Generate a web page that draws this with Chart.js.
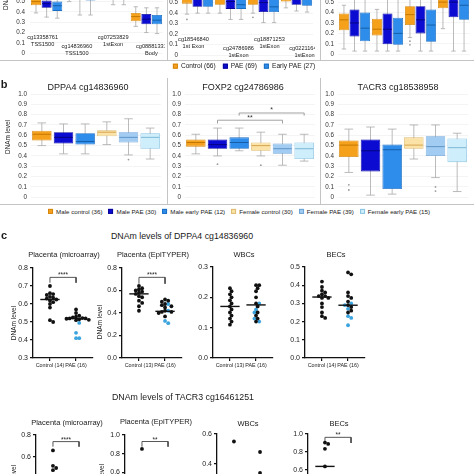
<!DOCTYPE html>
<html>
<head>
<meta charset="utf-8">
<script src="https://cdn.jsdelivr.net/npm/chart.js@4.4.1/dist/chart.umd.min.js"></script>
<style>
  html, body { margin: 0; padding: 0; background: #fff; }
  #fig { position: relative; width: 474px; height: 474px; overflow: hidden; font-family: "Liberation Sans", Arial, sans-serif; color: #1a1a1a; }
  #fig canvas { position: absolute; }
  .t { position: absolute; white-space: nowrap; line-height: 1; }
  .ln { position: absolute; background: #c4c4c4; }
  .leg { position: absolute; display: flex; align-items: center; white-space: nowrap; line-height: 1; transform: translate(-50%, -50%); }
  .leg .it { display: inline-flex; align-items: center; }
  .leg .sq { display: inline-block; width: 5px; height: 5px; margin-right: 3px; box-sizing: border-box; border: 1px solid; }
</style>
</head>
<body>
<div id="fig"></div>
<script>
// --- data: panel a, [low whisker, q1, median, q3, high whisker] per CpG ---
const aGroupNames = ['Control (66)', 'PAE (69)', 'Early PAE (27)'];
const aLeftCpgs = [['cg13358761', 'TSS1500'], ['cg14836960', 'TSS1500'], ['cg07253829', '1stExon'], ['cg08881331', 'Body']];
const aLeftControl = [[0.39, 0.465, 0.50, 0.55, 0.63], [0.50, 0.60, 0.65, 0.69, 0.78], [0.55, 0.72, 0.78, 0.83, 0.92], [0.26, 0.31, 0.355, 0.39, 0.45]];
const aLeftPae = [[0.35, 0.44, 0.48, 0.51, 0.60], [0.37, 0.53, 0.60, 0.66, 0.76], [0.47, 0.66, 0.74, 0.80, 0.92], [0.20, 0.28, 0.33, 0.38, 0.44]];
const aLeftEarly = [[0.34, 0.41, 0.46, 0.50, 0.58], [0.37, 0.51, 0.58, 0.64, 0.74], [0.47, 0.65, 0.73, 0.80, 0.91], [0.19, 0.28, 0.32, 0.37, 0.44]];

const aMidCpgs = [['cg18546840', '1st Exon'], ['cg24786986', '1stExon'], ['cg18871253', '1stExon'], ['cg02211646', '1stExon']];
const aMidControl = [[0.39, 0.49, 0.55, 0.62, 0.72], [0.40, 0.48, 0.53, 0.58, 0.66], [0.40, 0.48, 0.53, 0.58, 0.68], [0.45, 0.51, 0.56, 0.62, 0.72]];
const aMidPae = [[0.40, 0.46, 0.54, 0.62, 0.74], [0.34, 0.44, 0.51, 0.57, 0.67], [0.31, 0.41, 0.50, 0.57, 0.70], [0.42, 0.48, 0.55, 0.61, 0.71]];
const aMidEarly = [[0.40, 0.46, 0.54, 0.61, 0.72], [0.34, 0.44, 0.48, 0.56, 0.66], [0.31, 0.41, 0.46, 0.55, 0.68], [0.41, 0.47, 0.53, 0.60, 0.70]];
const aMidControlOut = [[0, 0.34], [2, 0.36]];

const aRightCpgs = ['1', '2', '3', '4'];
const aRightControl = [[0.05, 0.23, 0.33, 0.39, 0.47], [0.03, 0.18, 0.24, 0.34, 0.43], [0.16, 0.28, 0.38, 0.46, 0.60], [0.245, 0.44, 0.50, 0.56, 0.70]];
const aRightPae = [[0.03, 0.17, 0.30, 0.43, 0.62], [0.03, 0.095, 0.24, 0.39, 0.60], [0.03, 0.20, 0.33, 0.46, 0.65], [0.03, 0.355, 0.50, 0.62, 0.80]];
const aRightEarly = [[0.03, 0.125, 0.25, 0.40, 0.60], [0.03, 0.09, 0.20, 0.35, 0.55], [0.03, 0.12, 0.28, 0.43, 0.63], [0.03, 0.33, 0.47, 0.60, 0.78]];
const aRightControlOut = [[2, 0.125], [2, 0.09]];

// --- data: panel b, sex-stratified boxes ---
const bGroupNames = ['Male control (36)', 'Male PAE (30)', 'Male early PAE (12)', 'Female control (30)', 'Female PAE (39)', 'Female early PAE (15)'];
const bDppa4 = [[0.50, 0.55, 0.61, 0.645, 0.72], [0.42, 0.52, 0.58, 0.63, 0.71], [0.42, 0.51, 0.54, 0.62, 0.71], [0.51, 0.59, 0.63, 0.65, 0.73], [0.41, 0.53, 0.58, 0.63, 0.76], [0.37, 0.47, 0.58, 0.62, 0.67]];
const bDppa4Out = [[4, 0.365]];
const bFoxp2 = [[0.42, 0.49, 0.53, 0.56, 0.61], [0.40, 0.47, 0.51, 0.56, 0.67], [0.45, 0.47, 0.53, 0.58, 0.67], [0.40, 0.45, 0.50, 0.53, 0.63], [0.31, 0.42, 0.47, 0.52, 0.61], [0.35, 0.37, 0.47, 0.53, 0.61]];
const bFoxp2Out = [[1, 0.32], [3, 0.31]];
const bFoxp2Sig = [[1, 4, 0.746, 0.714, '**'], [2, 5, 0.816, 0.79, '*']];
const bTacr3 = [[0.24, 0.39, 0.505, 0.55, 0.66], [0.02, 0.25, 0.45, 0.56, 0.68], [0.03, 0.08, 0.46, 0.51, 0.66], [0.37, 0.47, 0.505, 0.58, 0.70], [0.19, 0.40, 0.49, 0.59, 0.70], [0.055, 0.34, 0.48, 0.57, 0.62]];
const bTacr3Out = [[0, 0.12], [0, 0.07], [4, 0.10], [4, 0.06]];

// --- data: panel c, individual DNAm values (black = PAE, blue = early PAE) ---
const cDppa4MicroCtrl = [0.70, 0.66, 0.655, 0.65, 0.64, 0.635, 0.63, 0.625, 0.62, 0.61, 0.60, 0.58, 0.51, 0.50];
const cDppa4MicroPae = [0.57, 0.55, 0.535, 0.53, 0.525, 0.522, 0.52, 0.52, 0.518, 0.515, 0.512, 0.51];
const cDppa4MicroEarly = [0.495, 0.44, 0.41, 0.41];
const cDppa4MicroMed = [0.625, 0.52];

const cDppa4EpiCtrl = [0.64, 0.62, 0.61, 0.60, 0.59, 0.58, 0.57, 0.55, 0.54, 0.51, 0.49, 0.46, 0.42];
const cDppa4EpiPae = [0.52, 0.51, 0.50, 0.48, 0.47, 0.46, 0.45, 0.42, 0.41, 0.41, 0.40, 0.37];
const cDppa4EpiEarly = [0.48, 0.42, 0.33, 0.31];
const cDppa4EpiMed = [0.57, 0.415];

const cDppa4WbcCtrl = [0.23, 0.22, 0.21, 0.20, 0.19, 0.18, 0.17, 0.16, 0.15, 0.14, 0.13, 0.12, 0.11];
const cDppa4WbcPae = [0.24, 0.24, 0.23, 0.22, 0.20, 0.18, 0.17, 0.15, 0.14, 0.13, 0.12];
const cDppa4WbcEarly = [0.18, 0.16, 0.15, 0.13, 0.12];
const cDppa4WbcMed = [0.17, 0.175];

const cDppa4BecCtrl = [0.42, 0.39, 0.37, 0.36, 0.35, 0.34, 0.34, 0.33, 0.33, 0.30, 0.28, 0.25, 0.23, 0.22];
const cDppa4BecPae = [0.47, 0.46, 0.36, 0.34, 0.33, 0.31, 0.29, 0.28, 0.26, 0.25];
const cDppa4BecEarly = [0.30, 0.29, 0.27, 0.23, 0.22, 0.18];
const cDppa4BecMed = [0.335, 0.29];

const cTacr3MicroCtrl = [0.66, 0.52, 0.50, 0.48];
const cTacr3EpiCtrl = [0.85];
const cTacr3WbcCtrl = [0.55];
const cTacr3WbcPae = [0.48, 0.34];
const cTacr3BecCtrl = [0.905, 0.89, 0.835, 0.64];
const cTacr3BecMed = [0.64, null];

// --- colours ---
const FONT = '"Liberation Sans", Arial, sans-serif';
const ORANGE = ['#F6A11C', '#D4860E'], NAVY = ['#0B0BD2', '#06069A'], BLUE = ['#2E8DEB', '#1B6EC2'];
const LORANGE = ['#FBE2A6', '#DDBB72'], LBLUE = ['#A3CCF2', '#6BA3D6'], VLBLUE = ['#CFEEFB', '#88C3E2'];
const bColors = [ORANGE, NAVY, BLUE, LORANGE, LBLUE, VLBLUE];

Chart.defaults.font.family = FONT;
Chart.defaults.animation = false;
Chart.defaults.events = [];
Chart.defaults.plugins.legend.display = false;
Chart.defaults.plugins.tooltip.enabled = false;

const fig = document.getElementById('fig');

function addText(s, x, y, size, bold, rotate) {
    const d = document.createElement('div');
    d.className = 't';
    d.textContent = s;
    d.style.left = x + 'px';
    d.style.top = y + 'px';
    d.style.fontSize = size + 'px';
    if (bold) d.style.fontWeight = 'bold';
    d.style.transform = 'translate(-50%, -50%)' + (rotate ? ' rotate(-90deg)' : '');
    fig.appendChild(d);
}
function addLine(x, y, w, h) {
    const d = document.createElement('div');
    d.className = 'ln';
    Object.assign(d.style, { left: x + 'px', top: y + 'px', width: w + 'px', height: h + 'px' });
    fig.appendChild(d);
}
function addCanvas(left, top, w, h) {
    const cv = document.createElement('canvas');
    cv.width = w; cv.height = h;
    Object.assign(cv.style, { left: left + 'px', top: top + 'px', width: w + 'px', height: h + 'px' });
    fig.appendChild(cv);
    return cv;
}
function legend(items, cx, cy, size, gap) {
    const d = document.createElement('div');
    d.className = 'leg';
    Object.assign(d.style, { left: cx + 'px', top: cy + 'px', fontSize: size + 'px', gap: gap + 'px' });
    items.forEach(([name, col]) => {
        const it = document.createElement('span');
        it.className = 'it';
        it.innerHTML = `<span class="sq" style="background:${col[0]};border-color:${col[1]}"></span>${name}`;
        d.appendChild(it);
    });
    fig.appendChild(d);
}

// --- boxplot extras: whiskers, medians, outliers, brackets, CpG labels ---
const boxExtras = {
    id: 'boxExtras',
    beforeDatasetsDraw(chart) {
        const ctx = chart.ctx, y = chart.scales.y;
        ctx.save();
        ctx.strokeStyle = '#a9a9a9';
        ctx.lineWidth = 0.8;
        chart.data.datasets.forEach((ds, di) => {
            chart.getDatasetMeta(di).data.forEach((bar, i) => {
                const s = ds.stats[i], cap = bar.width * 0.22;
                const yl = y.getPixelForValue(s[0]), yh = y.getPixelForValue(s[4]);
                ctx.beginPath();
                ctx.moveTo(bar.x, yl); ctx.lineTo(bar.x, yh);
                ctx.moveTo(bar.x - cap, yl); ctx.lineTo(bar.x + cap, yl);
                ctx.moveTo(bar.x - cap, yh); ctx.lineTo(bar.x + cap, yh);
                ctx.stroke();
            });
        });
        ctx.restore();
    },
    afterDatasetsDraw(chart, args, opts) {
        const ctx = chart.ctx, x = chart.scales.x, y = chart.scales.y;
        ctx.save();
        chart.data.datasets.forEach((ds, di) => {
            const bars = chart.getDatasetMeta(di).data;
            bars.forEach((bar, i) => {
                const ym = y.getPixelForValue(ds.stats[i][2]);
                ctx.strokeStyle = Array.isArray(ds.medColor) ? ds.medColor[i] : ds.medColor;
                ctx.lineWidth = 1;
                ctx.beginPath();
                ctx.moveTo(bar.x - bar.width / 2 + 0.5, ym); ctx.lineTo(bar.x + bar.width / 2 - 0.5, ym);
                ctx.stroke();
            });
            ctx.fillStyle = '#9a9a9a';
            (ds.outliers || []).forEach(([i, v]) => {
                ctx.beginPath();
                ctx.arc(bars[i].x, y.getPixelForValue(v), 0.9, 0, Math.PI * 2);
                ctx.fill();
            });
        });
        // significance brackets
        ctx.strokeStyle = '#8a8a8a';
        ctx.fillStyle = '#333';
        ctx.lineWidth = 0.8;
        ctx.font = `7px ${FONT}`;
        ctx.textAlign = 'center';
        ctx.textBaseline = 'bottom';
        (opts.brackets || []).forEach(([a, b, v, tip, txt]) => {
            const xa = x.getPixelForValue(a), xb = x.getPixelForValue(b);
            const yv = y.getPixelForValue(v), yt = y.getPixelForValue(tip);
            ctx.beginPath();
            ctx.moveTo(xa, yt); ctx.lineTo(xa, yv); ctx.lineTo(xb, yv); ctx.lineTo(xb, yt);
            ctx.stroke();
            ctx.fillText(txt, (xa + xb) / 2, yv + 1);
        });
        ctx.restore();
    },
    afterDraw(chart, args, opts) {
        if (!opts.cpg) return;
        const ctx = chart.ctx, x = chart.scales.x, y = chart.scales.y;
        ctx.save();
        ctx.font = `5.6px ${FONT}`;
        ctx.fillStyle = '#222';
        ctx.textAlign = 'center';
        ctx.textBaseline = 'middle';
        opts.cpg.forEach((lines, i) => {
            const cx = x.getPixelForValue(i) + opts.cpgDx[i];
            const rows = i % 2 ? [0.066, 0] : [0.151, 0.085];
            lines.forEach((s, k) => ctx.fillText(s, cx, y.getPixelForValue(rows[k])));
        });
        ctx.restore();
    }
};

function boxChart(pos, labels, sets, opt) {
    const cv = addCanvas(pos.left, pos.top, pos.w, pos.h);
    return new Chart(cv, {
        type: 'bar',
        data: {
            labels: labels,
            datasets: sets.map(s => ({
                data: s.stats.map(v => [v[1], v[3]]),
                stats: s.stats,
                outliers: s.outliers,
                backgroundColor: s.fill,
                borderColor: s.edge,
                medColor: s.med,
                borderWidth: 0.8,
                borderSkipped: false,
                barPercentage: opt.barPct,
                categoryPercentage: opt.catPct
            }))
        },
        options: {
            responsive: false,
            layout: { padding: { top: 10, bottom: 6, left: 0, right: pos.padR } },
            scales: {
                x: { display: false },
                y: {
                    min: 0, max: 1,
                    afterFit: s => { s.width = pos.axisW; },
                    ticks: { stepSize: 0.1, autoSkip: false, font: { size: 6.3 }, color: '#333', padding: opt.tickPad },
                    grid: { color: '#ececec', lineWidth: 0.6, drawTicks: false },
                    border: { display: false }
                }
            },
            plugins: { boxExtras: { brackets: opt.brackets, cpg: opt.cpg, cpgDx: opt.cpgDx } }
        },
        plugins: [boxExtras]
    });
}

// --- 1. panel a ---
const aSets = (c, p, e, cOut) => [
    { stats: c, fill: ORANGE[0], edge: ORANGE[1], med: '#C27800', outliers: cOut || [] },
    { stats: p, fill: NAVY[0], edge: NAVY[1], med: '#050580', outliers: [] },
    { stats: e, fill: BLUE[0], edge: BLUE[1], med: '#155FA8', outliers: [] }
];
const aOpt = { barPct: 0.94, catPct: 0.96, tickPad: 5 };
boxChart({ left: 0, top: -60, w: 165, h: 122, axisW: 30, padR: 2 }, aLeftCpgs.map(c => c[0]),
    aSets(aLeftControl, aLeftPae, aLeftEarly),
    Object.assign({}, aOpt, { cpg: aLeftCpgs, cpgDx: [-4, -3, 0, 5] }));
boxChart({ left: 167, top: -60, w: 148, h: 122, axisW: 14, padR: 2 }, aMidCpgs.map(c => c[0]),
    aSets(aMidControl, aMidPae, aMidEarly, aMidControlOut),
    Object.assign({}, aOpt, { tickPad: 3, cpg: aMidCpgs, cpgDx: [-4, 8, 6, 8] }));
boxChart({ left: 320, top: -60, w: 152, h: 122, axisW: 18, padR: 2 }, aRightCpgs,
    aSets(aRightControl, aRightPae, aRightEarly, aRightControlOut),
    Object.assign({}, aOpt, { tickPad: 4 }));
addText('DNAm level', 6, -7, 6.4, false, true);
legend(aGroupNames.map((n, i) => [n, [ORANGE, NAVY, BLUE][i]]), 244, 66, 6.6, 7);

// --- 2. panel b ---
const bSet = (stats, out) => [{
    stats: stats, outliers: out,
    fill: bColors.map(c => c[0]), edge: bColors.map(c => c[1]),
    med: ['#C27800', '#050580', '#155FA8', '#D6A650', '#5D95C8', '#7DB7D6']
}];
const bOpt = { barPct: 1, catPct: 0.9, tickPad: 4 };
boxChart({ left: 0, top: 84, w: 162, h: 121, axisW: 31, padR: 1 }, bGroupNames, bSet(bDppa4, bDppa4Out), bOpt);
boxChart({ left: 167, top: 84, w: 149, h: 121, axisW: 18, padR: 1 }, bGroupNames, bSet(bFoxp2, bFoxp2Out),
    Object.assign({}, bOpt, { brackets: bFoxp2Sig }));
boxChart({ left: 320, top: 84, w: 149, h: 121, axisW: 18, padR: 1 }, bGroupNames, bSet(bTacr3, bTacr3Out), bOpt);
addText('b', 4, 84, 11, true);
addText('DPPA4 cg14836960', 88, 86.5, 9);
addText('FOXP2 cg24786986', 243, 86.5, 9);
addText('TACR3 cg18538958', 398, 86.5, 9);
addText('DNAm level', 8, 137, 6.4, false, true);
legend(bGroupNames.map((n, i) => [n, bColors[i]]), 239, 211.5, 6.2, 6);

// panel frame lines
addLine(0, 60, 474, 1);
addLine(167, 0, 1, 60);
addLine(320, 0, 1, 60);
addLine(167, 78, 1, 126);
addLine(320, 78, 1, 126);
addLine(0, 204, 474, 1);

// --- 3. panel c: dot plots ---
function swarm(vals, center, pxY) {
    const d = 3.3, pxX = 27, placed = [], xs = [];
    const order = vals.map((v, i) => i).sort((a, b) => vals[b] - vals[a]);
    order.forEach(i => {
        for (let k = 0; k < 80; k++) {
            const off = (k % 2 ? 1 : -1) * Math.ceil(k / 2) * d * 0.5;
            if (placed.every(p => Math.hypot(p.o - off, (p.v - vals[i]) * pxY) >= d)) {
                placed.push({ o: off, v: vals[i] });
                xs[i] = center + off / pxX;
                break;
            }
        }
    });
    return xs;
}

const dotExtras = {
    id: 'dotExtras',
    afterDraw(chart, args, opts) {
        if (!opts.bracket) return;
        const ctx = chart.ctx, x = chart.scales.x, y = chart.scales.y;
        ctx.save();
        ctx.font = `6.5px ${FONT}`;
        ctx.fillStyle = '#222';
        ctx.textAlign = 'center';
        ctx.textBaseline = 'bottom';
        ctx.fillText(opts.bracket[2], x.getPixelForValue(1.5), y.getPixelForValue(opts.bracket[0]) + 1.5);
        ctx.restore();
    }
};

function dotChart(c) {
    const cv = addCanvas(c.left, c.top, 97, c.h);
    const ctrl = c.ctrl || [], pae = c.pae || [], early = c.early || [];
    const cx = swarm(ctrl, 1, c.pxY);
    const px = swarm(pae.concat(early), 2, c.pxY);
    const black = ctrl.map((v, i) => ({ x: cx[i], y: v })).concat(pae.map((v, i) => ({ x: px[i], y: v })));
    const blue = early.map((v, i) => ({ x: px[pae.length + i], y: v }));
    const datasets = [];
    (c.med || []).forEach((m, i) => {
        if (m == null) return;
        datasets.push({ data: [{ x: i + 1 - 0.37, y: m }, { x: i + 1 + 0.37, y: m }], showLine: true, pointRadius: 0, borderColor: '#111', borderWidth: 1.4, clip: false });
    });
    datasets.push({ data: black, backgroundColor: '#111', pointRadius: 1.9, borderWidth: 0, clip: false });
    datasets.push({ data: blue, backgroundColor: '#3BA4DE', pointRadius: 1.9, borderWidth: 0, clip: false });
    if (c.bracket) {
        const [yb, yt] = c.bracket;
        datasets.push({ data: [{ x: 1, y: yt }, { x: 1, y: yb }, { x: 2, y: yb }, { x: 2, y: yt }], showLine: true, pointRadius: 0, borderColor: '#444', borderWidth: 0.9, clip: false });
    }
    const axisGrid = { drawOnChartArea: false, tickLength: 3, color: '#111', lineWidth: 1.2 };
    new Chart(cv, {
        type: 'scatter',
        data: { datasets: datasets },
        options: {
            responsive: false,
            layout: { padding: { top: 10, right: 2, bottom: 0, left: 0 } },
            scales: {
                x: {
                    type: 'linear', min: 0.35, max: 2.65,
                    afterBuildTicks: s => { s.ticks = [{ value: 1 }, { value: 2 }]; },
                    afterFit: s => { s.height = 16; },
                    ticks: { callback: v => c.xLabels[v - 1], font: { size: 5.4 }, color: '#222', padding: 1, maxRotation: 0, autoSkip: false },
                    grid: axisGrid,
                    border: { color: '#111', width: 1.3 }
                },
                y: {
                    min: c.yMin, max: c.yMax,
                    afterFit: s => { s.width = 33; },
                    ticks: { stepSize: c.step, autoSkip: false, callback: v => v.toFixed(1), font: { size: 7 }, color: '#222', padding: 2 },
                    grid: axisGrid,
                    border: { color: '#111', width: 1.3 }
                }
            },
            plugins: { dotExtras: { bracket: c.bracket } }
        },
        plugins: [dotExtras]
    });
}

const lab14 = ['Control (14)', 'PAE (16)'], lab13 = ['Control (13)', 'PAE (16)'];
dotChart({ left: 0, top: 258, h: 116, yMin: 0.3, yMax: 0.8, step: 0.1, pxY: 180, xLabels: lab14,
    ctrl: cDppa4MicroCtrl, pae: cDppa4MicroPae, early: cDppa4MicroEarly, med: cDppa4MicroMed, bracket: [0.748, 0.718, '****'] });
dotChart({ left: 89, top: 258, h: 116, yMin: 0, yMax: 0.8, step: 0.2, pxY: 112.5, xLabels: lab13,
    ctrl: cDppa4EpiCtrl, pae: cDppa4EpiPae, early: cDppa4EpiEarly, med: cDppa4EpiMed, bracket: [0.717, 0.66, '****'] });
dotChart({ left: 180, top: 257, h: 117, yMin: 0, yMax: 0.3, step: 0.1, pxY: 303, xLabels: lab13,
    ctrl: cDppa4WbcCtrl, pae: cDppa4WbcPae, early: cDppa4WbcEarly, med: cDppa4WbcMed });
dotChart({ left: 272, top: 257, h: 117, yMin: 0, yMax: 0.5, step: 0.1, pxY: 182, xLabels: lab14,
    ctrl: cDppa4BecCtrl, pae: cDppa4BecPae, early: cDppa4BecEarly, med: cDppa4BecMed });

dotChart({ left: 3, top: 425, h: 114, yMin: 0, yMax: 0.8, step: 0.2, pxY: 110, xLabels: ['Control', 'PAE'],
    ctrl: cTacr3MicroCtrl, bracket: [0.74, 0.694, '****'] });
dotChart({ left: 92, top: 425, h: 119, yMin: 0, yMax: 1, step: 0.2, pxY: 92.5, xLabels: ['Control', 'PAE'],
    ctrl: cTacr3EpiCtrl, bracket: [0.93, 0.874, '**'] });
dotChart({ left: 184, top: 424, h: 116, yMin: 0, yMax: 0.6, step: 0.2, pxY: 150, xLabels: ['Control', 'PAE'],
    ctrl: cTacr3WbcCtrl, pae: cTacr3WbcPae });
dotChart({ left: 275, top: 424, h: 116, yMin: 0, yMax: 1, step: 0.2, pxY: 90, xLabels: ['Control', 'PAE'],
    ctrl: cTacr3BecCtrl, med: cTacr3BecMed, bracket: [0.963, 0.90, '**'] });

addText('c', 4, 235, 11, true);
addText('DNAm levels of DPPA4 cg14836960', 182, 235.5, 8.8);
addText('Placenta (microarray)', 64, 255, 7.5);
addText('Placenta (EpiTYPER)', 153, 255, 7.5);
addText('WBCs', 244, 255, 7.5);
addText('BECs', 336, 255, 7.5);
addText('DNAm level', 14, 323, 6.5, false, true);
addText('DNAm level', 100, 322, 6.5, false, true);

addText('DNAm levels of TACR3 cg16461251', 183, 397, 8.8);
addText('Placenta (microarray)', 67, 423, 7.5);
addText('Placenta (EpiTYPER)', 156, 422, 7.5);
addText('WBCs', 248, 424, 7.5);
addText('BECs', 339, 424, 7.5);
addText('DNAm level', 14, 482, 6.5, false, true);
addText('DNAm level', 102, 481, 6.5, false, true);
</script>
</body>
</html>
